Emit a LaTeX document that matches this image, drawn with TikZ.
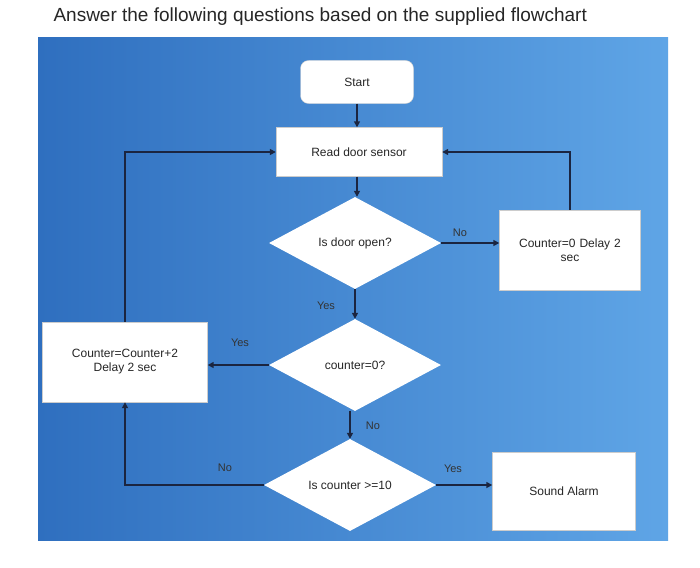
\documentclass[tikz,border=0pt]{standalone}
\usepackage{fontspec}
\setmainfont{Liberation Sans}
\usetikzlibrary{shapes.geometric,arrows.meta}
\definecolor{bgl}{HTML}{2F6FBF}
\definecolor{bgr}{HTML}{5FA5E6}
\definecolor{ln}{HTML}{1B2540}
\begin{document}
\begin{tikzpicture}[x=1pt,y=-1pt,
  box/.style={draw=gray!40,fill=white,minimum width=#1,font=\fontsize{12}{14}\selectfont,align=center,text=black!85},
  dia/.style={diamond,fill=white,minimum width=172,minimum height=92,aspect=1.9,inner sep=0,font=\fontsize{12}{14}\selectfont,text=black!85},
  con/.style={draw=ln,line width=2.3pt},
  arr/.style={con,-{Triangle[length=6pt,width=6pt]}},
  lab/.style={font=\fontsize{11}{13}\selectfont,text=black!80}]
\useasboundingbox (0,0) rectangle (700,567);
\fill[white] (0,0) rectangle (700,567);
\node[font=\fontsize{19}{22}\selectfont,anchor=west,text=black!85] (title) at (50,17) {Answer the following questions based on the supplied flowchart};
\shade[left color=bgl, right color=bgr] (38,38) rectangle (668,540);
\node[box=113,minimum height=43,rounded corners=8pt] (start) at (357,82) {Start};
\node[box=166,minimum height=49] (read) at (359,152) {Read door sensor};
\node[dia] (d1) at (355,243) {Is door open?};
\node[dia] (d2) at (355,365) {counter=0?};
\node[dia] (d3) at (350,485) {Is counter >=10};
\node[box=141,minimum height=80,text width=130] (c0) at (570,250) {Counter=0 Delay 2\\sec};
\node[box=165,minimum height=80] (c2) at (125,362) {Counter=Counter+2\\Delay 2 sec};
\node[box=143,minimum height=78] (alarm) at (564,491) {Sound Alarm};
\draw[arr] (start) -- (start|-read.north);
\draw[arr] (read.south-|start) -- (d1.north-|start);
\draw[arr] (d1.east) -- (c0.west |- d1.east);
\node[lab] (no1) at (460,233) {No};
\draw[arr] (c0.north) |- (read.east);
\draw[arr] (d1.south) -- (d2.north);
\node[lab] (yes1) at (326,306) {Yes};
\draw[arr] (d2.west) -- (c2.east |- d2.west);
\node[lab] (yes2) at (240,343) {Yes};
\draw[arr] (c2.north) |- (read.west);
\draw[arr] (d2.south-|d3) -- (d3.north);
\node[lab] (no2) at (373,426) {No};
\draw[arr] (d3.west) -| (c2.south);
\node[lab] (no3) at (225,468) {No};
\draw[arr] (d3.east) -- (alarm.west |- d3.east);
\node[lab] (yes3) at (453,469) {Yes};
\end{tikzpicture}
\end{document}
